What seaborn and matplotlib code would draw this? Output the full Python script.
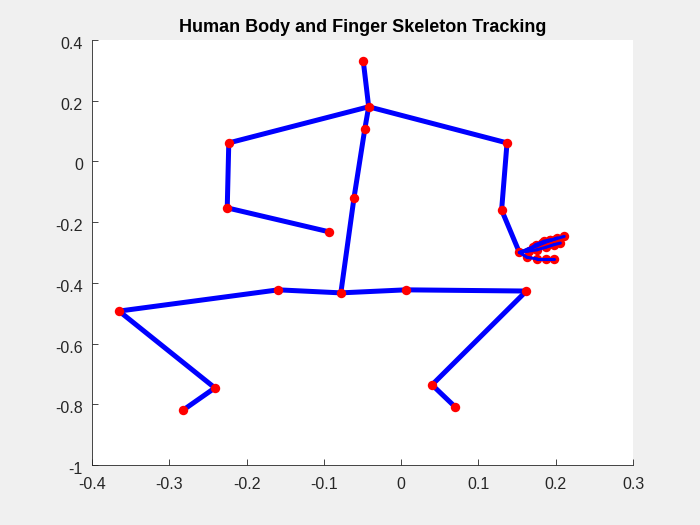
import pandas as pd
import matplotlib
matplotlib.use('Agg')
import matplotlib.pyplot as plt
import matplotlib.transforms as mtransforms
import seaborn as sns
from matplotlib.ticker import FormatStrFormatter

# 关节坐标
joint_names = ['head', 'neck', 'spine_sh', 'spine_mid', 'spine_base',
               'l_shoulder', 'l_elbow', 'l_hand',
               'r_shoulder', 'r_elbow', 'r_wrist',
               'l_hip', 'l_knee', 'l_ankle', 'l_foot',
               'r_hip', 'r_knee', 'r_ankle', 'r_foot']
joint_x = [-0.049, -0.042, -0.047, -0.061, -0.078,
           -0.223, -0.225, -0.093,
           0.137, 0.130, 0.153,
           -0.159, -0.365, -0.241, -0.282,
           0.006, 0.162, 0.040, 0.070]
joint_y = [0.331, 0.180, 0.107, -0.120, -0.433,
           0.061, -0.153, -0.232,
           0.061, -0.160, -0.300,
           -0.423, -0.493, -0.746, -0.819,
           -0.423, -0.427, -0.736, -0.809]

bones = [('head', 'neck'), ('neck', 'spine_sh'), ('spine_sh', 'spine_mid'),
         ('spine_mid', 'spine_base'),
         ('neck', 'l_shoulder'), ('l_shoulder', 'l_elbow'), ('l_elbow', 'l_hand'),
         ('neck', 'r_shoulder'), ('r_shoulder', 'r_elbow'), ('r_elbow', 'r_wrist'),
         ('spine_base', 'l_hip'), ('l_hip', 'l_knee'), ('l_knee', 'l_ankle'),
         ('l_ankle', 'l_foot'),
         ('spine_base', 'r_hip'), ('r_hip', 'r_knee'), ('r_knee', 'r_ankle'),
         ('r_ankle', 'r_foot')]

# 手指关节 (从手腕开始)
thumb_x = [0.153, 0.163, 0.176, 0.187, 0.198]
thumb_y = [-0.300, -0.316, -0.321, -0.321, -0.321]
index_x = [0.153, 0.176, 0.187, 0.198, 0.206]
index_y = [-0.300, -0.291, -0.283, -0.274, -0.269]
middle_x = [0.153, 0.165, 0.174, 0.185, 0.193]
middle_y = [-0.300, -0.294, -0.274, -0.263, -0.258]
ring_x = [0.153, 0.170, 0.182, 0.193, 0.202]
ring_y = [-0.300, -0.282, -0.268, -0.260, -0.252]
pinky_x = [0.153, 0.176, 0.189, 0.200, 0.211]
pinky_y = [-0.300, -0.278, -0.264, -0.255, -0.247]

# 构建数据表
jx = dict(zip(joint_names, joint_x))
jy = dict(zip(joint_names, joint_y))
rows = []
for i, (a, b) in enumerate(bones):
    rows.append({'bone': f'b{i}', 'x': jx[a], 'y': jy[a]})
    rows.append({'bone': f'b{i}', 'x': jx[b], 'y': jy[b]})
body_df = pd.DataFrame(rows)

fingers = {'thumb': (thumb_x, thumb_y), 'index': (index_x, index_y),
           'middle': (middle_x, middle_y), 'ring': (ring_x, ring_y),
           'pinky': (pinky_x, pinky_y)}
rows = []
for name, (fx, fy) in fingers.items():
    for k in range(len(fx) - 1):
        rows.append({'bone': f'{name}{k}', 'x': fx[k], 'y': fy[k]})
        rows.append({'bone': f'{name}{k}', 'x': fx[k + 1], 'y': fy[k + 1]})
hand_df = pd.DataFrame(rows)

pts = pd.DataFrame({'x': joint_x, 'y': joint_y})
hand_pts = pd.DataFrame({
    'x': thumb_x[1:] + index_x[1:] + middle_x[1:] + ring_x[1:] + pinky_x[1:],
    'y': thumb_y[1:] + index_y[1:] + middle_y[1:] + ring_y[1:] + pinky_y[1:]})

sns.set_style('white')
plt.rcParams['font.family'] = ['Liberation Sans', 'DejaVu Sans']

fig = plt.figure(figsize=(7, 5.25), dpi=100, facecolor='#f0f0f0')
ax = fig.add_axes([0.1314, 0.1143, 0.7729, 0.8095])
ax.set_facecolor('white')

# 身体骨骼
sns.lineplot(data=body_df, x='x', y='y', units='bone', estimator=None,
             sort=False, color='blue', linewidth=3.6, ax=ax, zorder=2)
sns.scatterplot(data=pts, x='x', y='y', color='red', s=46, edgecolor='red',
                linewidth=0, ax=ax, zorder=3)
# 手指
sns.scatterplot(data=hand_pts, x='x', y='y', color='red', s=46, edgecolor='red',
                linewidth=0, ax=ax, zorder=3.5)
sns.lineplot(data=hand_df, x='x', y='y', units='bone', estimator=None,
             sort=False, color='blue', linewidth=2.2, ax=ax, zorder=4)

ax.set_xlim(-0.4, 0.3)
ax.set_ylim(-1, 0.4)
ax.set_xticks([-0.4, -0.3, -0.2, -0.1, 0, 0.1, 0.2, 0.3])
ax.set_yticks([-1, -0.8, -0.6, -0.4, -0.2, 0, 0.2, 0.4])
ax.xaxis.set_major_formatter(FormatStrFormatter('%g'))
ax.yaxis.set_major_formatter(FormatStrFormatter('%g'))
ax.set_xlabel('')
ax.set_ylabel('')
ax.tick_params(direction='in', length=4, width=0.6, labelsize=11.5,
               colors='#262626', bottom=True, left=True, top=False, right=False)
ax.tick_params(axis='x', pad=8.5)
ax.tick_params(axis='y', pad=6.5)
shift = mtransforms.ScaledTranslation(0, -3 / 100, fig.dpi_scale_trans)
for lab in ax.get_yticklabels():
    lab.set_transform(lab.get_transform() + shift)
for s in ['top', 'right']:
    ax.spines[s].set_visible(False)
for s in ['bottom', 'left']:
    ax.spines[s].set_color('#262626')
    ax.spines[s].set_linewidth(0.6)

ax.set_title('Human Body and Finger Skeleton Tracking', fontsize=13,
             fontweight='bold', color='black', pad=5.5)

plt.savefig('out.png', dpi=100, facecolor=fig.get_facecolor())
